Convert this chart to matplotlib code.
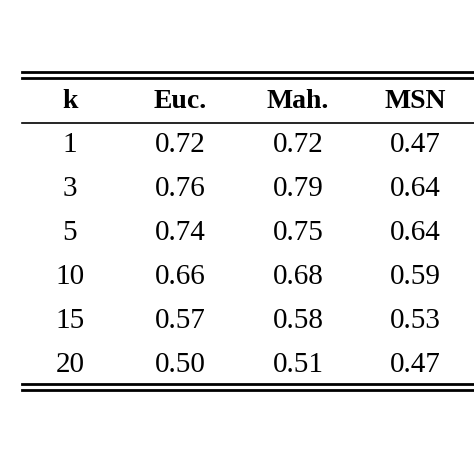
import matplotlib
matplotlib.use("Agg")
import matplotlib.pyplot as plt

headers = ["k", "Euc.", "Mah.", "MSN"]
k_vals = ["1", "3", "5", "10", "15", "20"]
euc = ["0.72", "0.76", "0.74", "0.66", "0.57", "0.50"]
mah = ["0.72", "0.79", "0.75", "0.68", "0.58", "0.51"]
msn = ["0.47", "0.64", "0.64", "0.59", "0.53", "0.47"]

fig = plt.figure(figsize=(4.74, 4.74), dpi=100)
ax = fig.add_axes([0, 0, 1, 1])
ax.set_xlim(0, 474); ax.set_ylim(474, 0); ax.axis("off")

xs = [70, 180, 298, 415]
fam = ["Liberation Serif", "DejaVu Serif"]
for x, h in zip(xs, headers):
    ax.text(x, 101, h, ha="center", va="center", fontsize=20, fontweight="bold", family=fam)
cols = [k_vals, euc, mah, msn]
for i in range(len(k_vals)):
    y = 145 + 44 * i
    for x, c in zip(xs, cols):
        ax.text(x, y, c[i], ha="center", va="center", fontsize=21, family=fam)

for y in [72, 78, 384, 390]:
    ax.plot([22, 474], [y, y], color="black", lw=2)
ax.plot([22, 474], [123, 123], color="black", lw=1.2)
fig.savefig("out.png", dpi=100)
